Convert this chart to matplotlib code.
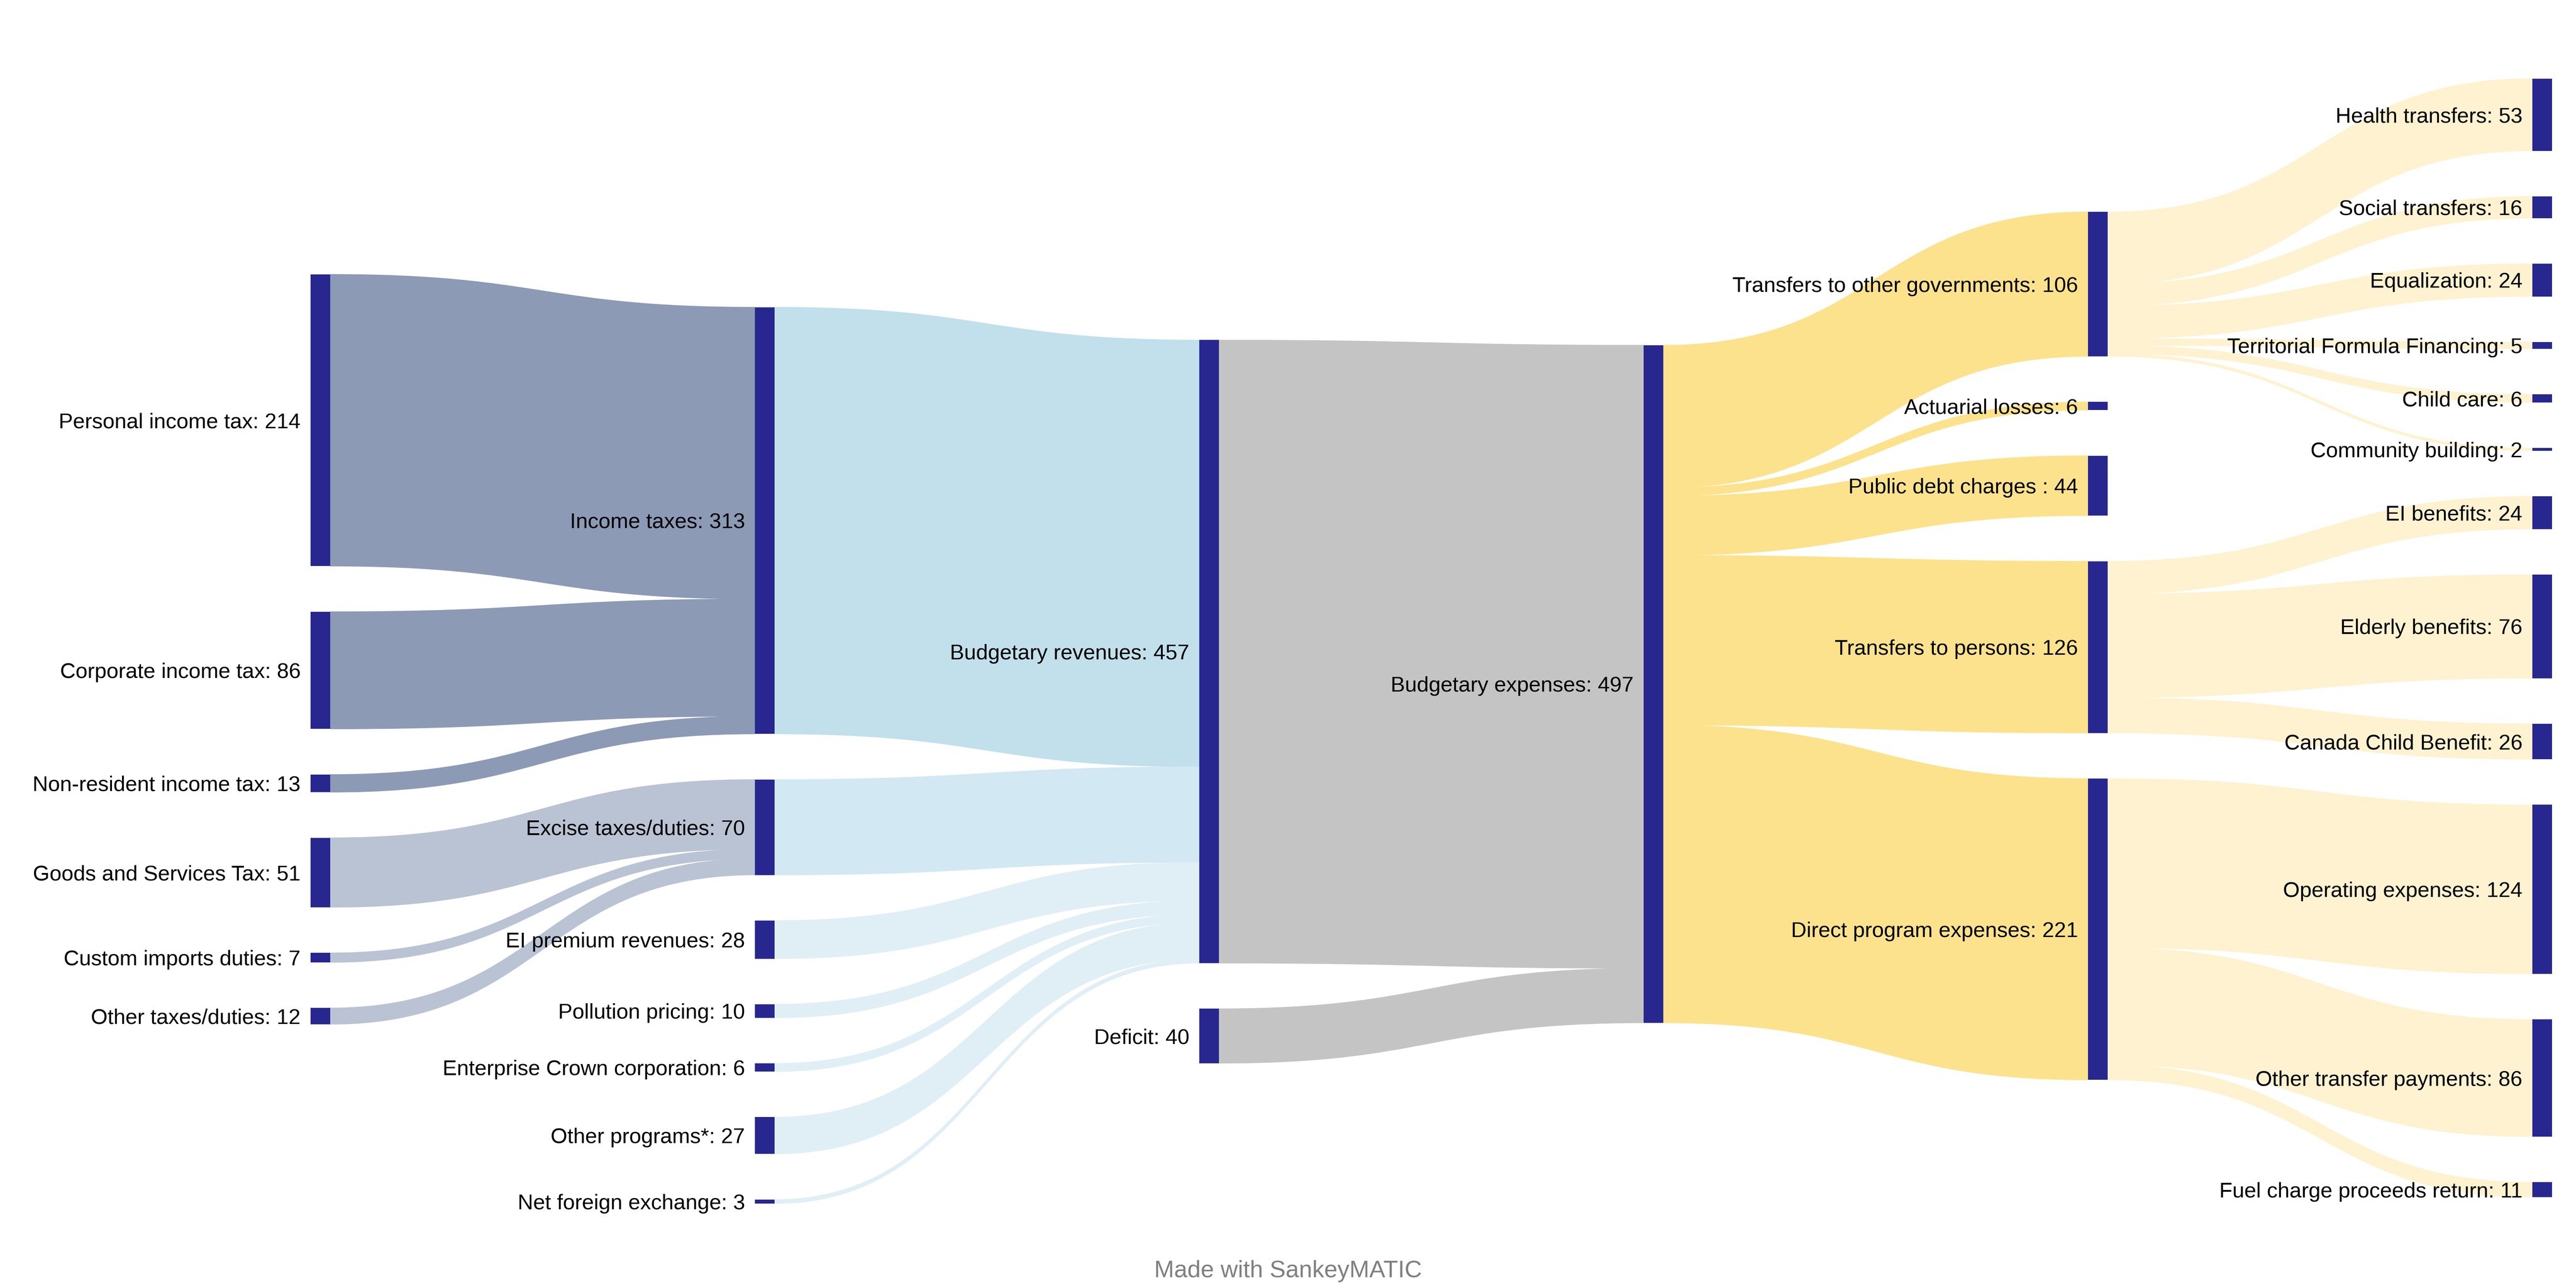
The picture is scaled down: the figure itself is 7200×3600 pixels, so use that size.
import matplotlib
matplotlib.use("Agg")
import matplotlib.pyplot as plt
from matplotlib.path import Path
from matplotlib.patches import PathPatch, Rectangle

plt.rcParams['font.family'] = ['Liberation Sans', 'DejaVu Sans']

# flows of the federal budget (billions of dollars): source -> target
sources = [
    'Personal income tax', 'Corporate income tax', 'Non-resident income tax',
    'Goods and Services Tax', 'Custom imports duties', 'Other taxes/duties',
    'Income taxes', 'Excise taxes/duties', 'EI premium revenues', 'Pollution pricing',
    'Enterprise Crown corporation', 'Other programs*', 'Net foreign exchange',
    'Budgetary revenues', 'Deficit',
    'Budgetary expenses', 'Budgetary expenses', 'Budgetary expenses',
    'Budgetary expenses', 'Budgetary expenses',
    'Transfers to other governments', 'Transfers to other governments',
    'Transfers to other governments', 'Transfers to other governments',
    'Transfers to other governments', 'Transfers to other governments',
    'Transfers to persons', 'Transfers to persons', 'Transfers to persons',
    'Direct program expenses', 'Direct program expenses', 'Direct program expenses',
]
targets = [
    'Income taxes', 'Income taxes', 'Income taxes',
    'Excise taxes/duties', 'Excise taxes/duties', 'Excise taxes/duties',
    'Budgetary revenues', 'Budgetary revenues', 'Budgetary revenues', 'Budgetary revenues',
    'Budgetary revenues', 'Budgetary revenues', 'Budgetary revenues',
    'Budgetary expenses', 'Budgetary expenses',
    'Transfers to other governments', 'Actuarial losses', 'Public debt charges ',
    'Transfers to persons', 'Direct program expenses',
    'Health transfers', 'Social transfers', 'Equalization',
    'Territorial Formula Financing', 'Child care', 'Community building',
    'EI benefits', 'Elderly benefits', 'Canada Child Benefit',
    'Operating expenses', 'Other transfer payments', 'Fuel charge proceeds return',
]
values = [
    214, 86, 13,
    51, 7, 12,
    313, 70, 28, 10,
    6, 27, 3,
    457, 40,
    106, 6, 44,
    126, 221,
    53, 16, 24,
    5, 6, 2,
    24, 76, 26,
    124, 86, 11,
]

# layout
UNITS_TALL = 944.6        # value units over the full figure height
GAP = 33.4                # vertical gap between nodes, value units
COL_LEFT = 0.1206
COL_STEP = 0.1725
NODE_W = 0.00764
COL_TOP = [0.213, 0.2385, 0.264, 0.268, 0.1645, 0.061]
NODE_COLOR = '#27278f'


def flow_color(src, tgt, col_t):
    if tgt == 'Income taxes':
        return '#8c9ab6'
    if tgt == 'Excise taxes/duties':
        return '#b9c3d4'
    if src == 'Income taxes':
        return '#c1e0ec'
    if src == 'Excise taxes/duties':
        return '#d2e8f2'
    if col_t == 2:
        return '#e0eff6'
    if tgt == 'Budgetary expenses':
        return '#c4c4c4'
    if src == 'Budgetary expenses':
        return '#fde28d'
    return '#fef2d0'


links = list(zip(sources, targets, values))

nodes = []
for s, t, v in links:
    for n in (s, t):
        if n not in nodes:
            nodes.append(n)

inflow = {n: 0 for n in nodes}
outflow = {n: 0 for n in nodes}
for s, t, v in links:
    outflow[s] += v
    inflow[t] += v
size = {n: (inflow[n] if inflow[n] else outflow[n]) for n in nodes}

# columns: longest path from the left, sources pulled next to their targets
depth = {n: 0 for n in nodes}
changed = True
while changed:
    changed = False
    for s, t, v in links:
        if depth[t] < depth[s] + 1:
            depth[t] = depth[s] + 1
            changed = True
for n in nodes:
    if inflow[n] == 0:
        depth[n] = min(depth[t] for s, t, v in links if s == n) - 1

ncols = max(depth.values()) + 1
top = {}
for c in range(ncols):
    y = COL_TOP[c] * UNITS_TALL
    for n in nodes:
        if depth[n] == c:
            top[n] = y
            y += size[n] + GAP


def xleft(n):
    return COL_LEFT + depth[n] * COL_STEP


# where each flow leaves and enters
src_pos, tgt_pos = {}, {}
for n in nodes:
    outs = sorted([i for i, l in enumerate(links) if l[0] == n], key=lambda i: top[links[i][1]])
    k = min(1.0, size[n] / outflow[n]) if outflow[n] else 1.0
    y = top[n]
    for i in outs:
        w = links[i][2] * k
        src_pos[i] = (y, y + w)
        y += w
    ins = sorted([i for i, l in enumerate(links) if l[1] == n], key=lambda i: top[links[i][0]])
    k = min(1.0, size[n] / inflow[n]) if inflow[n] else 1.0
    y = top[n]
    for i in ins:
        w = links[i][2] * k
        tgt_pos[i] = (y, y + w)
        y += w

fig = plt.figure(figsize=(16, 8), dpi=450)
fig.patch.set_facecolor('white')
ax = fig.add_axes([0, 0, 1, 1])
ax.set_xlim(0, 1)
ax.set_ylim(UNITS_TALL, 0)
ax.axis('off')

for i, (s, t, v) in enumerate(links):
    x0 = xleft(s) + NODE_W
    x1 = xleft(t)
    xm = (x0 + x1) / 2
    a0, b0 = src_pos[i]
    a1, b1 = tgt_pos[i]
    verts = [(x0, a0), (xm, a0), (xm, a1), (x1, a1),
             (x1, b1), (xm, b1), (xm, b0), (x0, b0), (x0, a0)]
    codes = [Path.MOVETO, Path.CURVE4, Path.CURVE4, Path.CURVE4,
             Path.LINETO, Path.CURVE4, Path.CURVE4, Path.CURVE4, Path.CLOSEPOLY]
    col = flow_color(s, t, depth[t])
    ax.add_patch(PathPatch(Path(verts, codes), facecolor=col, edgecolor=col,
                           linewidth=0.2, zorder=1))

cap_half = 0.716 * 9.6 / 2
for n in nodes:
    ax.add_patch(Rectangle((xleft(n), top[n]), NODE_W, size[n],
                           facecolor=NODE_COLOR, edgecolor='none', zorder=2))
    ax.annotate(f"{n}: {size[n]:g}", (xleft(n) - 0.0039, top[n] + size[n] / 2),
                xytext=(0, -cap_half), textcoords='offset points',
                ha='right', va='baseline', fontsize=9.6, color='black', zorder=3)

fig.text(0.5, 0.0083, 'Made with SankeyMATIC', ha='center', va='baseline',
         color='#808080', fontsize=10.7)

fig.savefig('out.png', dpi=450, facecolor='white')
